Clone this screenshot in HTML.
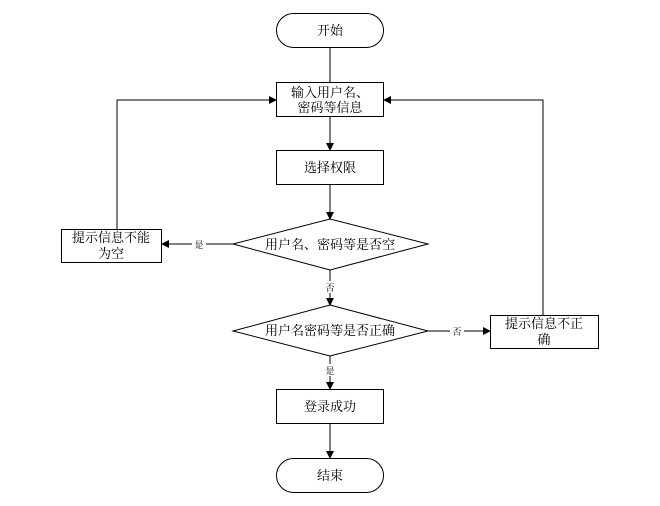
<!DOCTYPE html>
<html><head><meta charset="utf-8"><style>
body{margin:0;background:#fff}
svg text{font-family:"Liberation Serif","Noto Serif CJK SC","Noto Sans CJK SC",serif;fill:#000}
</style></head><body>
<svg width="660" height="501" xmlns="http://www.w3.org/2000/svg">
<defs><marker id="a" markerWidth="8" markerHeight="8" refX="7" refY="4" orient="auto" markerUnits="userSpaceOnUse"><path d="M0,0 L8,4 L0,8z" fill="#000"/></marker></defs>
<g stroke="#000" stroke-width="1" fill="none">
<rect x="276.5" y="13.5" width="107" height="34" rx="17"/>
<rect x="276.5" y="82.5" width="107" height="34"/>
<rect x="276.5" y="150.5" width="107" height="34"/>
<polygon points="233,244 330,219 428,244 330,270"/>
<rect x="61.5" y="229.5" width="100" height="33"/>
<polygon points="233,331 330,305 428,331 330,356"/>
<rect x="490.5" y="315.5" width="108" height="33"/>
<rect x="276.5" y="389.5" width="107" height="34"/>
<rect x="276.5" y="458.5" width="107" height="34" rx="17"/>
<line x1="330" y1="48" x2="330" y2="82"/>
<line x1="330" y1="117" x2="330" y2="150" marker-end="url(#a)"/>
<line x1="330" y1="185" x2="330" y2="219" marker-end="url(#a)"/>
<line x1="330" y1="270" x2="330" y2="305" marker-end="url(#a)"/>
<line x1="330" y1="356" x2="330" y2="389" marker-end="url(#a)"/>
<line x1="330" y1="424" x2="330" y2="458" marker-end="url(#a)"/>
<line x1="233" y1="244" x2="162" y2="244" marker-end="url(#a)"/>
<line x1="428" y1="331" x2="490" y2="331" marker-end="url(#a)"/>
<polyline points="117,229 117,100 276,100" marker-end="url(#a)"/>
<polyline points="543,315 543,100 384,100" marker-end="url(#a)"/>
</g>
<g font-size="13" text-anchor="middle">
<text x="330" y="35">开始</text>
<text x="330" y="97">输入用户名、</text>
<text x="330" y="112">密码等信息</text>
<text x="330" y="172">选择权限</text>
<text x="330" y="249">用户名、密码等是否空</text>
<text x="111" y="242">提示信息不能</text>
<text x="111" y="258">为空</text>
<text x="330" y="335">用户名密码等是否正确</text>
<text x="544" y="328">提示信息不正</text>
<text x="544" y="344">确</text>
<text x="330" y="411">登录成功</text>
<text x="330" y="480">结束</text>
</g>
<g font-size="9" text-anchor="middle">
<rect x="192" y="238" width="14" height="12" fill="#fff"/><text x="199" y="248">是</text>
<rect x="323" y="281" width="14" height="12" fill="#fff"/><text x="330" y="291">否</text>
<rect x="450" y="325" width="14" height="12" fill="#fff"/><text x="457" y="335">否</text>
<rect x="323" y="364" width="14" height="12" fill="#fff"/><text x="330" y="374">是</text>
</g>
</svg>
</body></html>
